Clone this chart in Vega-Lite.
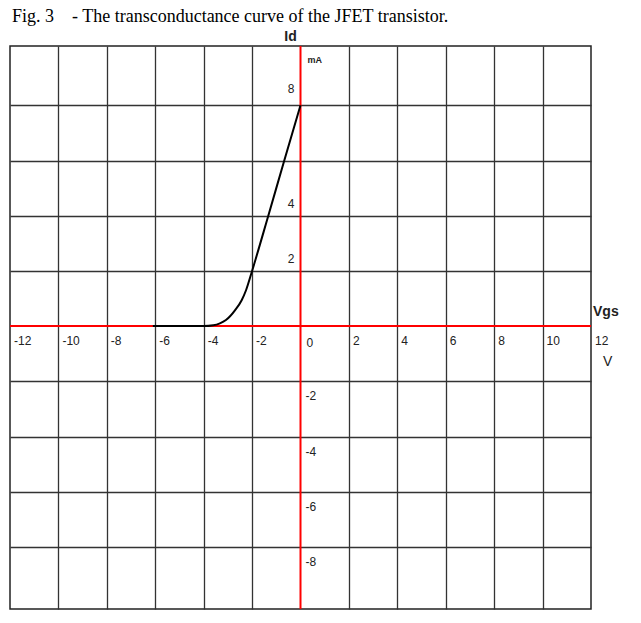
{
  "$schema": "https://vega.github.io/schema/vega-lite/v6.json",
  "autosize": "none",
  "padding": {"left": 10, "top": 46, "right": 50, "bottom": 14},
  "width": 581,
  "height": 563,
  "background": "white",
  "config": {"view": {"stroke": "#222", "strokeWidth": 1.5}},
  "layer": [
    {
      "data": {"values": [{"x": 0, "y": 0}]},
      "mark": {"type": "point", "opacity": 0},
      "encoding": {
        "x": {"field": "x", "type": "quantitative", "scale": {"domain": [-12, 12], "nice": false, "zero": false},
          "axis": {"values": [-10, -8, -6, -4, -2, 2, 4, 6, 8, 10], "grid": true, "gridColor": "#333", "gridWidth": 1.3, "domain": false, "ticks": false, "labels": false, "title": null}},
        "y": {"field": "y", "type": "quantitative", "scale": {"domain": [-10.25, 10.15], "nice": false, "zero": false},
          "axis": {"values": [-8, -6, -4, -2, 2, 4, 6, 8], "grid": true, "gridColor": "#333", "gridWidth": 1.3, "domain": false, "ticks": false, "labels": false, "title": null}}
      }
    },
    {
      "data": {"values": [{"x": 0}]},
      "mark": {"type": "rule", "color": "#ff0000", "strokeWidth": 2},
      "encoding": {"x": {"field": "x", "type": "quantitative"}}
    },
    {
      "data": {"values": [{"y": 0}]},
      "mark": {"type": "rule", "color": "#ff0000", "strokeWidth": 2},
      "encoding": {"y": {"field": "y", "type": "quantitative"}}
    },
    {
      "data": {"values": [
        {"x": -6.1, "y": 0}, {"x": -5, "y": 0}, {"x": -4, "y": 0},
        {"x": -3.6, "y": 0.03}, {"x": -3.33, "y": 0.1}, {"x": -3.08, "y": 0.22},
        {"x": -2.7, "y": 0.58}, {"x": -2.43, "y": 0.94}, {"x": -2.25, "y": 1.3},
        {"x": -2, "y": 2}, {"x": -1.33, "y": 4}, {"x": -0.67, "y": 6}, {"x": 0, "y": 8}
      ]},
      "mark": {"type": "line", "color": "black", "strokeWidth": 2, "interpolate": "monotone"},
      "encoding": {
        "x": {"field": "x", "type": "quantitative"},
        "y": {"field": "y", "type": "quantitative"}
      }
    },
    {
      "data": {"values": [
        {"v": -12, "t": "-12"}, {"v": -10, "t": "-10"}, {"v": -8, "t": "-8"}, {"v": -6, "t": "-6"},
        {"v": -4, "t": "-4"}, {"v": -2, "t": "-2"}, {"v": 2, "t": "2"}, {"v": 4, "t": "4"},
        {"v": 6, "t": "6"}, {"v": 8, "t": "8"}, {"v": 10, "t": "10"}, {"v": 12, "t": "12"}
      ]},
      "mark": {"type": "text", "align": "left", "baseline": "middle", "dx": 4, "dy": 15, "font": "Liberation Sans", "fontSize": 12, "color": "#222", "clip": false},
      "encoding": {
        "x": {"field": "v", "type": "quantitative"},
        "y": {"datum": 0, "type": "quantitative"},
        "text": {"field": "t"}
      }
    },
    {
      "data": {"values": [{"t": "0"}]},
      "mark": {"type": "text", "align": "left", "baseline": "middle", "dx": 6, "dy": 17, "font": "Liberation Sans", "fontSize": 12, "color": "#222"},
      "encoding": {
        "x": {"datum": 0, "type": "quantitative"},
        "y": {"datum": 0, "type": "quantitative"},
        "text": {"field": "t"}
      }
    },
    {
      "data": {"values": [{"v": 2, "t": "2"}, {"v": 4, "t": "4"}]},
      "mark": {"type": "text", "align": "right", "baseline": "middle", "dx": -6, "dy": -12, "font": "Liberation Sans", "fontSize": 12, "color": "#222"},
      "encoding": {
        "x": {"datum": 0, "type": "quantitative"},
        "y": {"field": "v", "type": "quantitative"},
        "text": {"field": "t"}
      }
    },
    {
      "data": {"values": [{"v": 8, "t": "8"}]},
      "mark": {"type": "text", "align": "right", "baseline": "middle", "dx": -6, "dy": -16, "font": "Liberation Sans", "fontSize": 12, "color": "#222"},
      "encoding": {
        "x": {"datum": 0, "type": "quantitative"},
        "y": {"field": "v", "type": "quantitative"},
        "text": {"field": "t"}
      }
    },
    {
      "data": {"values": [{"v": -2, "t": "-2"}, {"v": -4, "t": "-4"}, {"v": -6, "t": "-6"}, {"v": -8, "t": "-8"}]},
      "mark": {"type": "text", "align": "left", "baseline": "middle", "dx": 5, "dy": 15, "font": "Liberation Sans", "fontSize": 12, "color": "#222"},
      "encoding": {
        "x": {"datum": 0, "type": "quantitative"},
        "y": {"field": "v", "type": "quantitative"},
        "text": {"field": "t"}
      }
    },
    {
      "data": {"values": [{"t": "mA"}]},
      "mark": {"type": "text", "align": "left", "baseline": "middle", "dx": 7, "dy": 14, "font": "Liberation Sans", "fontSize": 9, "fontWeight": "bold", "color": "#222"},
      "encoding": {
        "x": {"datum": 0, "type": "quantitative"},
        "y": {"datum": 10.15, "type": "quantitative"},
        "text": {"field": "t"}
      }
    },
    {
      "data": {"values": [{"t": "Id"}]},
      "mark": {"type": "text", "align": "center", "baseline": "middle", "dx": -10, "dy": -9, "font": "Liberation Sans", "fontSize": 14, "fontWeight": "bold", "color": "#222", "clip": false},
      "encoding": {
        "x": {"datum": 0, "type": "quantitative"},
        "y": {"datum": 10.15, "type": "quantitative"},
        "text": {"field": "t"}
      }
    },
    {
      "data": {"values": [{"t": "Fig. 3\u00a0\u00a0\u00a0 - The transconductance curve of the JFET transistor."}]},
      "mark": {"type": "text", "align": "left", "baseline": "middle", "dx": 2, "dy": -29, "font": "Liberation Serif", "fontSize": 18, "color": "black", "clip": false},
      "encoding": {
        "x": {"datum": -12, "type": "quantitative"},
        "y": {"datum": 10.15, "type": "quantitative"},
        "text": {"field": "t"}
      }
    },
    {
      "data": {"values": [{"t": "Vgs"}]},
      "mark": {"type": "text", "align": "left", "baseline": "middle", "dx": 2, "dy": -14, "font": "Liberation Sans", "fontSize": 14, "fontWeight": "bold", "color": "#222", "clip": false},
      "encoding": {
        "x": {"datum": 12, "type": "quantitative"},
        "y": {"datum": 0, "type": "quantitative"},
        "text": {"field": "t"}
      }
    },
    {
      "data": {"values": [{"t": "V"}]},
      "mark": {"type": "text", "align": "left", "baseline": "middle", "dx": 12, "dy": 36, "font": "Liberation Sans", "fontSize": 14, "color": "#222", "clip": false},
      "encoding": {
        "x": {"datum": 12, "type": "quantitative"},
        "y": {"datum": 0, "type": "quantitative"},
        "text": {"field": "t"}
      }
    }
  ]
}
